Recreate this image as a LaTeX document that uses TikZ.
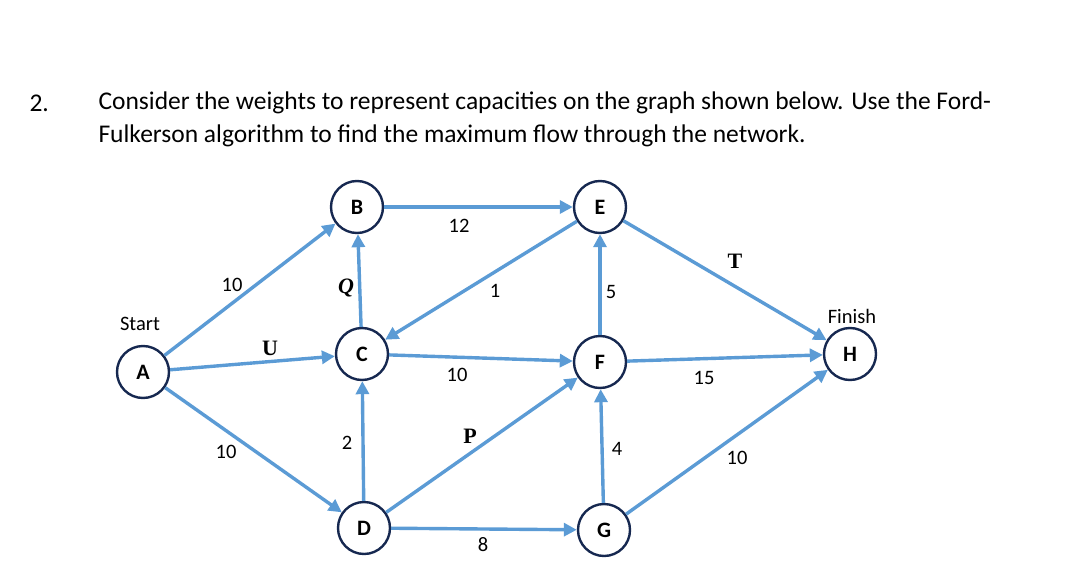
\documentclass[tikz,border=0pt]{standalone}
\usepackage{fontspec}
\setmainfont{Carlito}
\newfontfamily\tms{Liberation Serif}
\usetikzlibrary{arrows.meta}
\definecolor{edge}{RGB}{91,155,213}
\definecolor{nav}{RGB}{22,40,80}
\begin{document}
\begin{tikzpicture}[x=1pt,y=-1pt,
  v/.style={circle,draw=nav,line width=2.4pt,fill=white,minimum size=52pt,inner sep=0pt,font=\fontsize{22}{22}\selectfont\bfseries},
  e/.style={draw=edge,line width=3.4pt,-{Triangle[length=13pt,width=13pt]}},
  w/.style={font=\fontsize{20.5}{20.5}\selectfont},
  s/.style={font=\fontsize{22}{22}\selectfont\tms\bfseries}]
\useasboundingbox (0,0) rectangle (1067,580);
\node[anchor=west,font=\fontsize{25.5}{25.5}\selectfont] (n2) at (26,103) {2.};
\node[anchor=west,font=\fontsize{25.5}{25.5}\selectfont] (l1) at (95,103) {Consider the weights to represent capacities on the graph shown below. Use the Ford-};
\node[anchor=west,font=\fontsize{25.5}{25.5}\selectfont] (l2) at (95,136) {Fulkerson algorithm to find the maximum flow through the network.};
\node[v] (A) at (143,372) {A};
\node[v] (B) at (357,207) {B};
\node[v] (C) at (362,354) {C};
\node[v] (D) at (364,528) {D};
\node[v] (E) at (600,207) {E};
\node[v] (F) at (600,362) {F};
\node[v] (G) at (604,530) {G};
\node[v] (H) at (850,354) {H};
\node[w] (st) at (140,324) {Start};
\node[w] (fi) at (852,316) {Finish};
\draw[e] (A) -- (B);
\draw[e] (A) -- (C);
\draw[e] (A) -- (D);
\draw[e] (C) -- (B);
\draw[e] (B) -- (E);
\draw[e] (E) -- (C);
\draw[e] (C) -- (F);
\draw[e] (D) -- (C);
\draw[e] (D) -- (F);
\draw[e] (D) -- (G);
\draw[e] (F) -- (E);
\draw[e] (G) -- (F);
\draw[e] (E) -- (H);
\draw[e] (F) -- (H);
\draw[e] (G) -- (H);
\node[w] (wab) at (232,285) {10};
\node[s] (wu) at (270,348) {U};
\node[w] (wad) at (226,452) {10};
\node[s] (wq) at (346,288) {\itshape Q};
\node[w] (wbe) at (459,226) {12};
\node[w] (wec) at (495,291) {1};
\node[w] (wcf) at (457,375) {10};
\node[w] (wdc) at (347,443) {2};
\node[s] (wp) at (470,436) {P};
\node[w] (wdg) at (483,545) {8};
\node[w] (wfe) at (611,292) {5};
\node[w] (wgf) at (617,449) {4};
\node[s] (wt) at (735,261) {T};
\node[w] (wfh) at (704,378) {15};
\node[w] (wgh) at (737,458) {10};
\end{tikzpicture}
\end{document}
